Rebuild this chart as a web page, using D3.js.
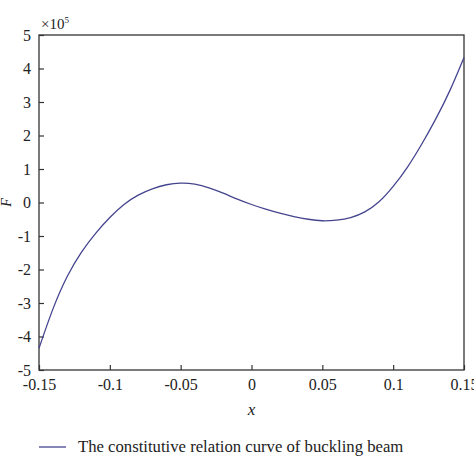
<!DOCTYPE html>
<html>
<head>
<meta charset="utf-8">
<script src="https://cdn.jsdelivr.net/npm/d3@7"></script>
<style>
  html, body { margin: 0; padding: 0; background: #fff; }
  #chart { width: 474px; height: 474px; }
</style>
</head>
<body>
<div id="chart"></div>
<script>
// displacement x
const xValues = [
  -0.15, -0.14, -0.13, -0.12, -0.11, -0.10, -0.09, -0.08, -0.07, -0.06,
  -0.05, -0.04, -0.03, -0.02, -0.01, 0.00, 0.01, 0.02, 0.03, 0.04,
  0.05, 0.06, 0.07, 0.08, 0.09, 0.10, 0.11, 0.12, 0.13, 0.14, 0.15,
];
// force F, in units of 1e5
const fValues = [
  -4.35, -3.16, -2.2, -1.48, -0.92, -0.45, -0.06, 0.22, 0.41, 0.53,
  0.58, 0.55, 0.44, 0.28, 0.10, -0.06, -0.20, -0.32, -0.42, -0.50,
  -0.545, -0.525, -0.45, -0.28, 0.02, 0.48, 1.05, 1.73, 2.49, 3.34, 4.33,
];
const xTicks = [-0.15, -0.1, -0.05, 0, 0.05, 0.1, 0.15];
const yTicks = [-5, -4, -3, -2, -1, 0, 1, 2, 3, 4, 5];
const legendLabel = "The constitutive relation curve of buckling beam";

const width = 474, height = 474;
const margin = { top: 35, right: 10, bottom: 104, left: 39 };
const serif = "'Liberation Serif', 'DejaVu Serif', serif";

const svg = d3.select("#chart")
  .append("svg")
  .attr("width", width)
  .attr("height", height)
  .attr("viewBox", `0 0 ${width} ${height}`);

const x = d3.scaleLinear().domain([-0.15, 0.15])
  .range([margin.left, width - margin.right]);
const y = d3.scaleLinear().domain([-5, 5])
  .range([height - margin.bottom, margin.top]);

const fmt = (d) => String(d);

// axes, ticks pointing inward
const xAxis = svg.append("g")
  .attr("transform", `translate(0,${y(-5)})`)
  .call(d3.axisBottom(x).tickValues(xTicks).tickSizeInner(-5).tickSizeOuter(0)
    .tickPadding(9).tickFormat(fmt));
const yAxis = svg.append("g")
  .attr("transform", `translate(${x(-0.15)},0)`)
  .call(d3.axisLeft(y).tickValues(yTicks).tickSizeInner(-5).tickSizeOuter(0)
    .tickPadding(8).tickFormat(fmt));

[xAxis, yAxis].forEach((g) => {
  g.select(".domain").remove();
  g.selectAll(".tick line").attr("stroke", "#333").attr("stroke-width", 1.2);
  g.selectAll(".tick text")
    .attr("fill", "#222")
    .style("font-family", serif)
    .style("font-size", "16px");
});

// frame
svg.append("rect")
  .attr("x", x(-0.15))
  .attr("y", y(5))
  .attr("width", x(0.15) - x(-0.15))
  .attr("height", y(-5) - y(5))
  .attr("fill", "none")
  .attr("stroke", "#333")
  .attr("stroke-width", 1.3);

// curve
const line = d3.line()
  .x((d, i) => x(xValues[i]))
  .y((d) => y(d))
  .curve(d3.curveNatural);

svg.append("path")
  .datum(fValues)
  .attr("d", line)
  .attr("fill", "none")
  .attr("stroke", "#45458f")
  .attr("stroke-width", 1.3);

// exponent label
const expo = svg.append("text")
  .attr("x", x(-0.15) + 2)
  .attr("y", y(5) - 6)
  .attr("fill", "#222")
  .style("font-family", serif)
  .style("font-size", "15px");
expo.append("tspan").text("×10");
expo.append("tspan").attr("dy", -6).style("font-size", "9px").text("5");

// axis titles
svg.append("text")
  .attr("x", x(0))
  .attr("y", y(-5) + 45)
  .attr("text-anchor", "middle")
  .attr("fill", "#222")
  .style("font-family", serif)
  .style("font-style", "italic")
  .style("font-size", "17px")
  .text("x");

svg.append("text")
  .attr("transform", `translate(11,${y(0)}) rotate(-90)`)
  .attr("text-anchor", "middle")
  .attr("fill", "#222")
  .style("font-family", serif)
  .style("font-style", "italic")
  .style("font-size", "14px")
  .text("F");

// legend
const legY = 447;
svg.append("line")
  .attr("x1", 39).attr("x2", 66)
  .attr("y1", legY).attr("y2", legY)
  .attr("stroke", "#45458f")
  .attr("stroke-width", 1.3);
svg.append("text")
  .attr("x", 78)
  .attr("y", legY + 5)
  .attr("fill", "#222")
  .style("font-family", serif)
  .style("font-size", "16.7px")
  .text(legendLabel);
</script>
</body>
</html>
